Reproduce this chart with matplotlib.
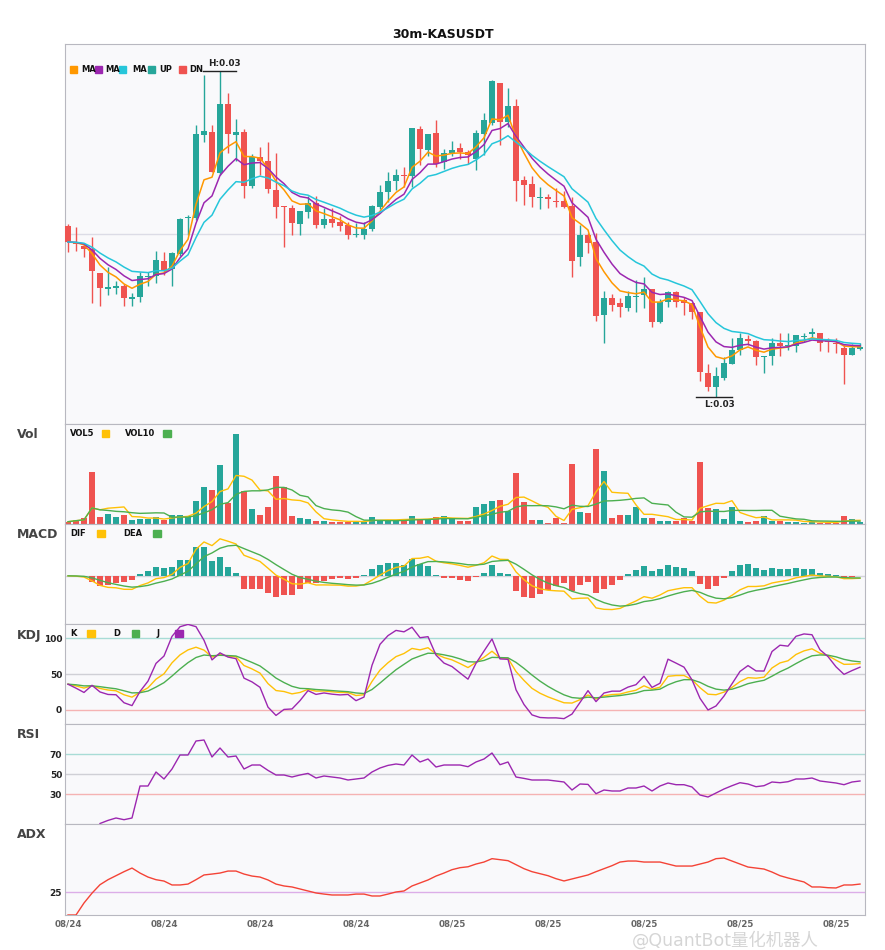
import numpy as np
import pandas as pd
import matplotlib
matplotlib.use("Agg")
import matplotlib.pyplot as plt
from matplotlib.patches import Rectangle

# ---------------- data ----------------
title = "30m-KASUSDT"
open_ = [0.03172, 0.03156, 0.03152, 0.03149, 0.03125, 0.03109, 0.03110, 0.03112, 0.03099, 0.03101,
         0.03121, 0.03122, 0.03137, 0.03129, 0.03144, 0.03180, 0.03180, 0.03263, 0.03266, 0.03225,
         0.03294, 0.03263, 0.03266, 0.03212, 0.03241, 0.03237, 0.03208, 0.03192, 0.03190, 0.03174,
         0.03186, 0.03195, 0.03173, 0.03179, 0.03176, 0.03173, 0.03163, 0.03163, 0.03169, 0.03191,
         0.03206, 0.03217, 0.03223, 0.03222, 0.03269, 0.03248, 0.03265, 0.03236, 0.03245, 0.03250,
         0.03246, 0.03239, 0.03264, 0.03275, 0.03315, 0.03276, 0.03292, 0.03218, 0.03214, 0.03200,
         0.03201, 0.03197, 0.03197, 0.03192, 0.03141, 0.03163, 0.03156, 0.03083, 0.03100, 0.03095,
         0.03090, 0.03101, 0.03103, 0.03109, 0.03076, 0.03096, 0.03106, 0.03098, 0.03095, 0.03086,
         0.03025, 0.03011, 0.03020, 0.03034, 0.03048, 0.03059, 0.03057, 0.03041, 0.03042, 0.03055,
         0.03052, 0.03052, 0.03061, 0.03064, 0.03065, 0.03058, 0.03055, 0.03050, 0.03043, 0.03049]
high = [0.03174, 0.03171, 0.03155, 0.03161, 0.03125, 0.03131, 0.03117, 0.03114, 0.03105, 0.03126,
        0.03126, 0.03147, 0.03146, 0.03146, 0.03180, 0.03183, 0.03273, 0.03323, 0.03273, 0.03327,
        0.03305, 0.03279, 0.03269, 0.03244, 0.03251, 0.03256, 0.03245, 0.03192, 0.03193, 0.03187,
        0.03202, 0.03202, 0.03190, 0.03190, 0.03182, 0.03176, 0.03175, 0.03176, 0.03193, 0.03213,
        0.03226, 0.03229, 0.03231, 0.03270, 0.03272, 0.03264, 0.03278, 0.03249, 0.03257, 0.03255,
        0.03248, 0.03268, 0.03285, 0.03318, 0.03315, 0.03310, 0.03299, 0.03222, 0.03222, 0.03211,
        0.03204, 0.03210, 0.03207, 0.03201, 0.03173, 0.03165, 0.03165, 0.03107, 0.03104, 0.03100,
        0.03107, 0.03118, 0.03121, 0.03109, 0.03099, 0.03107, 0.03107, 0.03101, 0.03095, 0.03086,
        0.03034, 0.03031, 0.03041, 0.03060, 0.03065, 0.03063, 0.03058, 0.03042, 0.03060, 0.03065,
        0.03065, 0.03063, 0.03065, 0.03070, 0.03065, 0.03060, 0.03060, 0.03053, 0.03054, 0.03055]
low = [0.03146, 0.03147, 0.03141, 0.03095, 0.03092, 0.03103, 0.03104, 0.03092, 0.03092, 0.03096,
       0.03112, 0.03115, 0.03123, 0.03112, 0.03142, 0.03163, 0.03178, 0.03256, 0.03226, 0.03223,
       0.03245, 0.03237, 0.03200, 0.03210, 0.03223, 0.03205, 0.03180, 0.03151, 0.03163, 0.03163,
       0.03180, 0.03170, 0.03170, 0.03171, 0.03167, 0.03159, 0.03161, 0.03159, 0.03167, 0.03189,
       0.03196, 0.03208, 0.03211, 0.03211, 0.03233, 0.03242, 0.03231, 0.03229, 0.03242, 0.03239,
       0.03234, 0.03228, 0.03243, 0.03273, 0.03253, 0.03271, 0.03197, 0.03193, 0.03191, 0.03189,
       0.03190, 0.03191, 0.03190, 0.03121, 0.03132, 0.03145, 0.03077, 0.03055, 0.03087, 0.03081,
       0.03087, 0.03086, 0.03090, 0.03071, 0.03075, 0.03091, 0.03091, 0.03083, 0.03079, 0.03017,
       0.03007, 0.03001, 0.03018, 0.03034, 0.03043, 0.03053, 0.03033, 0.03025, 0.03033, 0.03042,
       0.03048, 0.03046, 0.03056, 0.03061, 0.03047, 0.03046, 0.03045, 0.03014, 0.03043, 0.03048]
close = [0.03156, 0.03154, 0.03149, 0.03127, 0.03110, 0.03111, 0.03112, 0.03100, 0.03101, 0.03122,
         0.03122, 0.03138, 0.03128, 0.03145, 0.03179, 0.03181, 0.03264, 0.03267, 0.03226, 0.03294,
         0.03264, 0.03266, 0.03212, 0.03241, 0.03237, 0.03209, 0.03191, 0.03191, 0.03175, 0.03187,
         0.03195, 0.03173, 0.03179, 0.03175, 0.03172, 0.03163, 0.03164, 0.03169, 0.03192, 0.03206,
         0.03217, 0.03223, 0.03222, 0.03270, 0.03249, 0.03264, 0.03234, 0.03245, 0.03248, 0.03246,
         0.03243, 0.03265, 0.03278, 0.03317, 0.03276, 0.03292, 0.03217, 0.03213, 0.03201, 0.03201,
         0.03199, 0.03196, 0.03191, 0.03137, 0.03163, 0.03155, 0.03082, 0.03100, 0.03093, 0.03091,
         0.03102, 0.03102, 0.03109, 0.03076, 0.03096, 0.03106, 0.03096, 0.03095, 0.03086, 0.03026,
         0.03011, 0.03022, 0.03035, 0.03048, 0.03060, 0.03057, 0.03041, 0.03042, 0.03055, 0.03052,
         0.03053, 0.03063, 0.03062, 0.03066, 0.03055, 0.03056, 0.03054, 0.03043, 0.03050, 0.03051]
volume = [2.3, 4.3, 6.0, 51.7, 6.7, 10.3, 7.3, 9.3, 3.7, 4.7,
          4.7, 7.3, 4.3, 9.3, 9.3, 8.0, 23.3, 37.3, 34.3, 59.3,
          21.3, 90.3, 33.3, 15.3, 9.3, 17.3, 48.3, 37.3, 8.3, 6.3,
          5.3, 3.3, 3.3, 2.3, 2.3, 2.0, 3.3, 2.3, 7.3, 4.3,
          3.3, 3.3, 4.3, 8.3, 4.3, 4.3, 7.3, 8.3, 5.7, 3.3,
          3.3, 17.3, 20.3, 23.3, 24.3, 13.3, 51.3, 22.3, 4.3, 4.3,
          1.3, 6.3, 1.3, 60.3, 12.3, 11.3, 75.3, 53.3, 6.3, 9.3,
          9.3, 17.3, 6.3, 6.3, 3.3, 3.3, 3.3, 6.3, 3.3, 62.3,
          16.3, 15.3, 5.3, 17.3, 3.3, 2.3, 3.3, 8.3, 3.3, 3.3,
          2.3, 2.3, 1.3, 2.3, 1.3, 1.3, 1.3, 8.3, 5.3, 2.3]
rsi = [None, None, None, None, 0.5, 3.6, 6, 4.3, 6, 38,
       38, 52, 45, 55, 69, 69, 83, 84, 67, 76,
       67, 68, 55, 59, 59, 53.6, 49, 49, 47, 49,
       50.6, 46, 48, 47, 46, 44, 45, 46, 52, 56,
       58.6, 60, 59, 69, 62, 65, 57, 59, 59, 59,
       57.3, 62, 65, 71, 59.3, 62, 47, 45.6, 44, 44,
       44, 43, 42, 34, 40, 39.6, 30.3, 34, 33, 33,
       36, 36, 38, 33, 38, 41, 39.3, 39.3, 37, 29,
       27, 31, 35, 38.3, 41.3, 40, 37.3, 38.3, 42, 41.3,
       42.3, 45, 45, 46, 43, 42, 41, 39.3, 42, 43]
adx = [0, 0, 13.2, 24, 33.3, 38.8, 43.2, 47.6, 51.6, 46.1,
       41.7, 38.8, 37.3, 33, 33, 34, 38.8, 44, 45, 46.1,
       48.3, 48.3, 45, 42.8, 41.7, 38.5, 34, 31.9, 30.8, 28.6,
       26.4, 24.2, 23, 22, 22, 22, 23, 23, 20.9, 20.9,
       23, 25.3, 26.4, 31.9, 35.2, 38.5, 42.8, 46.1, 49.8, 52,
       53, 56, 58.2, 61.9, 60.8, 59.7, 55.3, 50.9, 47.6, 45.4,
       43.2, 39.9, 37.4, 39.6, 41.8, 44, 47.6, 50.9, 54.2, 58.2,
       59.3, 59.3, 58.2, 58.2, 58.2, 56, 53.8, 53.8, 53.8, 56,
       58.2, 61.9, 62.6, 59.3, 56, 52.7, 51.6, 50.5, 47.2, 43.2,
       40.7, 38.5, 36.3, 30.8, 30.8, 30, 29.7, 33, 33, 34]
tick_pos = [0, 12, 24, 36, 48, 60, 72, 84, 96]
tick_labels = ["08/24", "08/24", "08/24", "08/24", "08/25", "08/25", "08/25", "08/25", "08/25"]
price_grid = [0.03164]
ema_periods = [5, 8, 13]
macd_fast, macd_slow, macd_signal = 5, 13, 5
kdj_n = 9

# ---------------- indicators ----------------
o = pd.Series(open_); h = pd.Series(high); l = pd.Series(low); c = pd.Series(close)
v = pd.Series(volume)
n = len(c)
x = np.arange(n)
emas = [c.ewm(span=p, adjust=False).mean() for p in ema_periods]
vol5 = v.rolling(5, min_periods=1).mean()
vol10 = v.rolling(10, min_periods=1).mean()
dif = c.ewm(span=macd_fast, adjust=False).mean() - c.ewm(span=macd_slow, adjust=False).mean()
dea = dif.ewm(span=macd_signal, adjust=False).mean()
hist = 2 * (dif - dea)
ln = l.rolling(kdj_n, min_periods=1).min()
hn = h.rolling(kdj_n, min_periods=1).max()
rsv = (c - ln) / (hn - ln) * 100
K = rsv.ewm(com=2, adjust=False).mean()
D = K.ewm(com=2, adjust=False).mean()
J = 3 * K - 2 * D
rsi_arr = np.array([np.nan if r is None else r for r in rsi], dtype=float)

# ---------------- styling ----------------
UP = '#26a69a'; DN = '#ef5350'
C_EMA = ['#ff9800', '#9c27b0', '#26c6da']
C_Y = '#ffc107'; C_G = '#4caf50'; C_P = '#9c27b0'
BG = '#f9f9fb'; SPINE = '#b8b8c0'
W, H = 885, 950

fig = plt.figure(figsize=(W / 100, H / 100), dpi=100)
fig.patch.set_facecolor('white')

def rect(top, bottom):
    return [65 / W, 1 - bottom / H, 800 / W, (bottom - top) / H]

ax_main = fig.add_axes(rect(44, 424))
ax_vol = fig.add_axes(rect(424, 524))
ax_macd = fig.add_axes(rect(524, 624))
ax_kdj = fig.add_axes(rect(624, 724))
ax_rsi = fig.add_axes(rect(724, 824))
ax_adx = fig.add_axes(rect(824, 915))
axes = [ax_main, ax_vol, ax_macd, ax_kdj, ax_rsi, ax_adx]
for ax in axes:
    ax.set_facecolor(BG)
    ax.set_xlim(-0.375, n - 0.375)
    for s in ax.spines.values():
        s.set_color(SPINE)
        s.set_linewidth(0.8)
    ax.set_xticks(tick_pos)
    ax.tick_params(axis='x', length=0, labelbottom=False)
    ax.tick_params(axis='y', length=0, labelleft=False)

up = c >= o
colors = np.where(up, UP, DN)

# main candles
ax_main.vlines(x, l, h, colors=colors, linewidth=1, zorder=2)
body_h = np.maximum((c - o).abs(), 0.000008)
ax_main.bar(x, body_h, bottom=np.minimum(o, c), width=0.75, color=colors, zorder=3)
for e, col in zip(emas, C_EMA):
    ax_main.plot(x, e, color=col, lw=1.1, zorder=4)
lo_p, hi_p = l.min(), h.max()
pad = (hi_p - lo_p) * 0.0828
ax_main.set_ylim(lo_p - pad, hi_p + pad)
for g in price_grid:
    ax_main.axhline(g, color='#dcdce6', lw=1, zorder=1)

# high / low markers
ih = int(h.idxmax()); il = int(l.idxmin())
ax_main.plot([ih - 2.1, ih + 2.0], [hi_p, hi_p], color='#222222', lw=1, zorder=5)
ax_main.annotate(f"H:{hi_p:.2f}", (ih + 0.6, hi_p), xytext=(0, 2), textcoords='offset points',
                 ha='center', va='bottom', fontsize=6.4, fontweight='bold', color='#222222')
ax_main.plot([il - 2.5, il + 2.0], [lo_p, lo_p], color='#222222', lw=1, zorder=5)
ax_main.annotate(f"L:{lo_p:.2f}", (il + 0.4, lo_p), xytext=(0, -2), textcoords='offset points',
                 ha='center', va='top', fontsize=6.4, fontweight='bold', color='#222222')

# volume
ax_vol.bar(x, v, width=0.75, color=colors, zorder=2)
ax_vol.plot(x, vol5, color=C_Y, lw=1, zorder=3)
ax_vol.plot(x, vol10, color=C_G, lw=1, zorder=3)
ax_vol.set_ylim(0, v.max() * 1.107)

# macd
hcol = np.where(hist >= 0, UP, DN)
ax_macd.axhline(0, color='#d4d4dc', lw=1, zorder=1)
ax_macd.bar(x, hist, width=0.75, color=hcol, zorder=2)
ax_macd.plot(x, dif, color=C_Y, lw=1, zorder=3)
ax_macd.plot(x, dea, color=C_G, lw=1, zorder=3)
m = max(dif.abs().max(), dea.abs().max(), hist.abs().max())
ax_macd.set_ylim(-m * 1.30, m * 1.40)

# kdj
ax_kdj.axhline(100, color='#a8dcd6', lw=1, zorder=1)
ax_kdj.axhline(50, color='#d0d0d6', lw=1, zorder=1)
ax_kdj.axhline(0, color='#f5b3b3', lw=1, zorder=1)
ax_kdj.plot(x, K, color=C_Y, lw=1, zorder=3)
ax_kdj.plot(x, D, color=C_G, lw=1, zorder=3)
ax_kdj.plot(x, J, color=C_P, lw=1, zorder=3)
ax_kdj.set_ylim(-20, 120)
ax_kdj.set_yticks([0, 50, 100])

# rsi
ax_rsi.axhline(70, color='#a8dcd6', lw=1, zorder=1)
ax_rsi.axhline(50, color='#d0d0d6', lw=1, zorder=1)
ax_rsi.axhline(30, color='#f5b3b3', lw=1, zorder=1)
ax_rsi.plot(x, rsi_arr, color=C_P, lw=1, zorder=3)
ax_rsi.set_ylim(0, 100)
ax_rsi.set_yticks([30, 50, 70])

# adx
ax_adx.axhline(25, color='#dcaee8', lw=1, zorder=1)
ax_adx.plot(x, adx, color='#f44336', lw=1, zorder=3)
ax_adx.set_ylim(0, 100)
ax_adx.set_yticks([25])

for ax in (ax_kdj, ax_rsi, ax_adx):
    ax.tick_params(axis='y', labelleft=True, pad=2, labelsize=6.5, labelcolor='#222222')
    for t in ax.get_yticklabels():
        t.set_fontweight('bold')

ax_adx.set_xticks(tick_pos)
ax_adx.set_xticklabels(tick_labels)
ax_adx.tick_params(axis='x', labelbottom=True, pad=3, labelsize=6.3, labelcolor='#666666')
for t in ax_adx.get_xticklabels():
    t.set_fontweight('bold')

# ---------------- texts & legends ----------------
def ftxt(px, py, s, **kw):
    fig.text(px / W, 1 - py / H, s, **kw)

def fsq(x0, x1, y0, y1, color):
    fig.add_artist(Rectangle((x0 / W, 1 - y1 / H), (x1 - x0) / W, (y1 - y0) / H,
                             transform=fig.transFigure, color=color, zorder=10))

ftxt(443, 34, title, ha='center', va='center', fontsize=9, fontweight='bold', color='#111111')

for lab, yy in [("Vol", 435), ("MACD", 535), ("KDJ", 635), ("RSI", 735), ("ADX", 835)]:
    ftxt(17, yy, lab, ha='left', va='center', fontsize=9, fontweight='bold', color='#444444')

leg_kw = dict(ha='left', va='center', fontsize=6, fontweight='bold', color='#111111', zorder=11)
# main legend
for (sx, tx, col, lab) in [(70, 81, C_EMA[0], "MA"), (94.5, 105, C_EMA[1], "MA"),
                           (118.5, 132, C_EMA[2], "MA"), (148, 159, UP, "UP"), (179, 189, DN, "DN")]:
    fsq(sx, sx + 7.3, 65.8, 73, col)
    ftxt(tx, 69.5, lab, **leg_kw)
# vol legend
ftxt(70, 434, "VOL5", **leg_kw); fsq(101.7, 109, 430, 437.3, C_Y)
ftxt(125.3, 434, "VOL10", **leg_kw); fsq(163.3, 170.7, 430, 437.3, C_G)
# macd legend
ftxt(70, 534, "DIF", **leg_kw); fsq(97.3, 104.7, 530, 537.3, C_Y)
ftxt(123.3, 534, "DEA", **leg_kw); fsq(153.3, 160.7, 530, 537.3, C_G)
# kdj legend
ftxt(70, 634, "K", **leg_kw); fsq(87.3, 94.7, 630, 637.3, C_Y)
ftxt(113.3, 634, "D", **leg_kw); fsq(131.7, 139, 630, 637.3, C_G)
ftxt(156.7, 634, "J", **leg_kw); fsq(175.3, 182.7, 630, 637.3, C_P)

# watermark (kept below the date labels so the two do not collide)
fig.text(632 / W, 1 - 940 / H, "@QuantBot量化机器人", ha='left', va='center', fontsize=12.5,
         color='#c8c8c8', alpha=0.75, family=['DejaVu Sans', 'Noto Sans CJK SC'], zorder=12)

fig.savefig("out.png", dpi=100, facecolor='white')
